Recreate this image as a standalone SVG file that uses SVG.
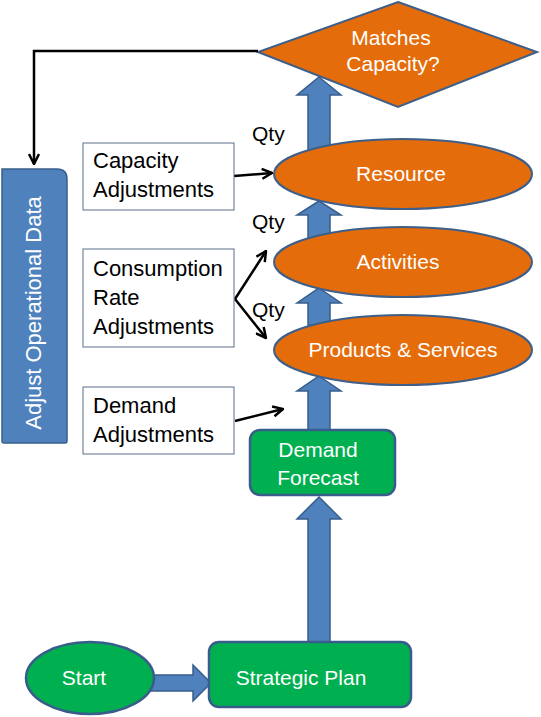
<svg xmlns="http://www.w3.org/2000/svg" width="541" height="717" viewBox="0 0 541 717">
<defs>
<marker id="open" viewBox="0 0 12 12" refX="11" refY="6" markerWidth="12" markerHeight="12" markerUnits="userSpaceOnUse" orient="auto">
<path d="M1,1 L11,6 L1,11" fill="none" stroke="#000" stroke-width="2.5" stroke-linejoin="miter"/>
</marker>
<style>
.t{font-family:"Liberation Sans",Arial,sans-serif;font-size:21px}
.w{fill:#fff}
.k{fill:#000}
.mid{text-anchor:middle}
.orange{fill:#E46C0A;stroke:#3E5F8A;stroke-width:2}
.green{fill:#00B050;stroke:#385D8A;stroke-width:2.5}
.blue{fill:#4F81BD;stroke:#385D8A;stroke-width:1.5}
.box{fill:#fff;stroke:#5A6F8C;stroke-width:1}
.line{fill:none;stroke:#000;stroke-width:2.5}
</style>
</defs>
<rect width="541" height="717" fill="#fff"/>

<g id="matches">
<polygon class="orange" points="398,2 537,52 398,107 258,52"/>
<text class="t w mid" x="391" y="45">Matches</text>
<text class="t w mid" x="393" y="71">Capacity?</text>
</g>

<g id="connectors">
<path class="line" d="M258,51 H34 V164" marker-end="url(#open)"/>
<polygon class="blue" points="319,77 341,95 330,95 330,150 308,150 308,95 297,95"/>
<polygon class="blue" points="319,201 341,215 330,215 330,240 308,240 308,215 297,215"/>
<polygon class="blue" points="319,288 341,303 330,303 330,325 308,325 308,303 297,303"/>
<polygon class="blue" points="319,376 341,391 330,391 330,432 308,432 308,391 297,391"/>
<polygon class="blue" points="319,497 341,519 330,519 330,644 308,644 308,519 297,519"/>
<polygon class="blue" points="211,683 193,665 193,675 140,675 140,691 193,691 193,701"/>
<path class="line" d="M234,176 L272,173" marker-end="url(#open)"/>
<path class="line" d="M235,299 L266,251" marker-end="url(#open)"/>
<path class="line" d="M235,299 L266,338" marker-end="url(#open)"/>
<path class="line" d="M235,421 L283,409" marker-end="url(#open)"/>
<text class="t k" x="252" y="141">Qty</text>
<text class="t k" x="252" y="229">Qty</text>
<text class="t k" x="252" y="317">Qty</text>
</g>

<g id="resource">
<ellipse class="orange" cx="403" cy="174" rx="129" ry="35"/>
<text class="t w mid" x="401" y="181">Resource</text>
</g>
<g id="activities">
<ellipse class="orange" cx="403" cy="262" rx="129" ry="35"/>
<text class="t w mid" x="398" y="269">Activities</text>
</g>
<g id="products">
<ellipse class="orange" cx="403" cy="350" rx="129" ry="35"/>
<text class="t w mid" x="403" y="357">Products &amp; Services</text>
</g>

<g id="adjust-data">
<path class="blue" d="M2,169 H57 Q67,169 67,179 V441 Q67,443 65,443 H4 Q2,443 2,441 Z"/>
<text class="t w mid" style="font-size:22px" transform="translate(41,313) rotate(-90)">Adjust Operational Data</text>
</g>

<g id="capacity-adj">
<rect class="box" x="83" y="143" width="151" height="67"/>
<text class="t k" style="font-size:22px" x="93" y="168">Capacity</text>
<text class="t k" style="font-size:22px" x="93" y="197">Adjustments</text>
</g>
<g id="consumption-adj">
<rect class="box" x="83" y="249" width="151" height="98"/>
<text class="t k" style="font-size:22px" x="93" y="276">Consumption</text>
<text class="t k" style="font-size:22px" x="93" y="305">Rate</text>
<text class="t k" style="font-size:22px" x="93" y="334">Adjustments</text>
</g>
<g id="demand-adj">
<rect class="box" x="83" y="387" width="151" height="67"/>
<text class="t k" style="font-size:22px" x="93" y="413">Demand</text>
<text class="t k" style="font-size:22px" x="93" y="442">Adjustments</text>
</g>

<g id="demand-forecast">
<rect class="green" x="250" y="430" width="145" height="65" rx="10"/>
<text class="t w mid" x="318" y="457">Demand</text>
<text class="t w mid" x="318" y="485">Forecast</text>
</g>
<g id="strategic-plan">
<rect class="green" x="209" y="642" width="202" height="65" rx="10"/>
<text class="t w mid" x="301" y="685">Strategic Plan</text>
</g>
<g id="start">
<ellipse class="green" cx="90" cy="678" rx="64" ry="36"/>
<text class="t w mid" x="84" y="685">Start</text>
</g>
</svg>
